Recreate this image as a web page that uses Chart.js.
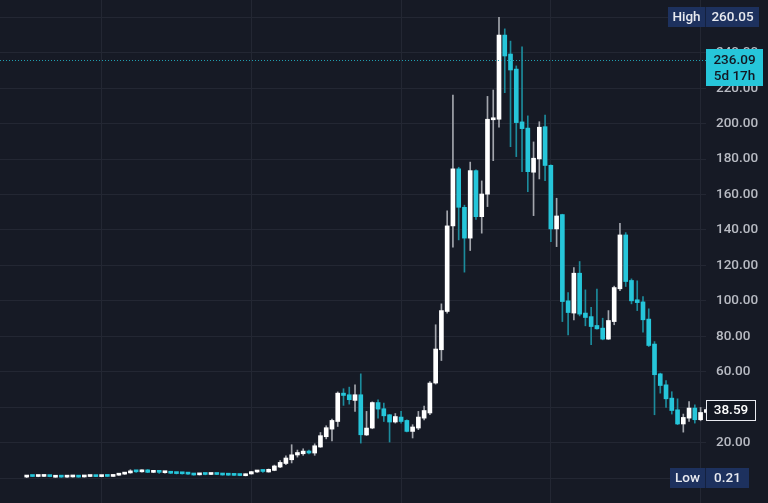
<!DOCTYPE html>
<html>
<head>
<meta charset="utf-8">
<script src="https://cdn.jsdelivr.net/npm/chart.js@4.4.0/dist/chart.umd.min.js"></script>
<style>
  html, body { margin: 0; padding: 0; background: #161a25; }
  #wrap { width: 768px; height: 503px; position: relative; }
</style>
</head>
<body>
<div id="wrap"><canvas id="chart"></canvas></div>
<script>
// Weekly candles, oldest first
const opens = [
  0.55, 0.95, 0.85, 0.9, 0.95, 0.45, 0.7, 0.5, 0.6, 0.75,
  0.6, 0.85, 1.0, 0.8, 1.05, 0.9, 1.6, 2.2, 2.9, 3.8,
  3.5, 4.6, 3.2, 3.5, 3.0, 3.1, 2.7, 2.6, 2.4, 2.2,
  1.8, 2.3, 2.0, 2.4, 2.0, 1.8, 1.7, 1.6, 1.3, 2.3,
  3.4, 4.0, 3.4, 4.3, 6.2, 8.2, 10.3, 13.0, 13.7, 15.2,
  14.1, 17.5, 23.3, 27.6, 31.9, 47.9, 47.0, 43.8, 47.0, 24.3,
  28.2, 42.6, 39.1, 35.7, 31.6, 34.4, 32.5, 26.3, 28.2, 33.8,
  36.7, 53.6, 72.4, 94.0, 142.3, 174.5, 152.8, 135.4, 173.5, 147.5,
  160.2, 202.2, 202.5, 250.0, 239.3, 230.8, 201.0, 197.5, 172.6, 180.1,
  198.3, 176.5, 140.6, 148.7, 100.0, 93.1, 115.6, 93.1, 91.1, 86.1,
  84.6, 78.4, 88.3, 106.8, 137.2, 111.5, 100.6, 99.4, 89.7, 75.6,
  58.8, 52.6, 45.1, 38.5, 30.5, 33.8, 39.5, 32.9, 37.0
];
const highs = [
  1.1, 1.1, 1.0, 1.1, 1.05, 0.85, 0.8, 0.8, 0.9, 0.85,
  1.1, 1.2, 1.1, 1.2, 1.2, 1.8, 2.4, 3.1, 4.7, 4.2,
  4.6, 4.8, 4.2, 4.0, 3.6, 3.3, 2.9, 2.8, 2.6, 2.4,
  2.5, 2.5, 2.6, 2.6, 2.2, 1.9, 1.9, 1.7, 2.4, 3.8,
  4.3, 4.5, 5.1, 7.3, 9.8, 12.5, 18.8, 15.8, 16.5, 15.8,
  19.3, 25.7, 29.5, 33.3, 48.6, 50.4, 51.3, 52.6, 58.8, 37.6,
  43.0, 44.2, 42.3, 35.9, 36.4, 37.6, 32.8, 30.1, 37.6, 40.6,
  54.5, 86.5, 98.3, 150.8, 216.2, 175.4, 154.0, 178.3, 174.0, 167.7,
  215.4, 219.0, 260.05, 253.5, 246.6, 232.6, 243.4, 204.4, 189.7, 201.1,
  204.8, 176.8, 157.9, 148.9, 104.7, 118.8, 122.2, 106.2, 96.4, 106.6,
  90.2, 94.5, 108.3, 143.8, 138.5, 112.4, 111.3, 102.4, 95.5, 77.0,
  59.2, 55.0, 48.7, 44.7, 36.1, 43.2, 41.3, 39.8, 38.9
];
const lows = [
  0.21, 0.75, 0.7, 0.75, 0.7, 0.4, 0.4, 0.4, 0.5, 0.45,
  0.5, 0.75, 0.7, 0.7, 0.8, 0.85, 1.5, 2.0, 2.7, 3.2,
  3.3, 3.0, 3.0, 2.6, 2.8, 2.5, 2.3, 2.2, 2.0, 1.6,
  1.7, 1.8, 1.9, 1.9, 1.6, 1.5, 1.4, 1.3, 1.2, 2.2,
  3.1, 3.2, 3.3, 4.1, 5.8, 7.6, 8.5, 11.8, 12.8, 13.6,
  12.8, 17.3, 22.1, 21.0, 29.1, 41.0, 41.7, 37.6, 19.7, 24.0,
  27.8, 33.8, 31.9, 20.3, 31.0, 31.0, 26.0, 22.6, 27.3, 32.8,
  35.8, 53.0, 66.3, 93.0, 130.3, 134.4, 116.2, 128.4, 146.0, 138.2,
  153.2, 179.1, 198.0, 217.5, 187.0, 181.4, 172.9, 161.6, 148.1, 168.8,
  167.8, 133.4, 130.6, 88.3, 80.8, 89.3, 91.5, 85.9, 75.2, 84.0,
  78.0, 78.2, 86.5, 105.8, 108.1, 98.3, 94.5, 82.3, 74.2, 35.7,
  47.9, 39.8, 36.1, 30.1, 25.9, 31.9, 31.0, 32.3, 36.8
];
const closes = [
  0.95, 0.85, 0.9, 0.95, 0.8, 0.7, 0.5, 0.65, 0.75, 0.5,
  0.9, 1.0, 0.8, 1.05, 0.9, 1.6, 2.2, 2.9, 3.8, 3.5,
  4.3, 3.2, 3.8, 3.2, 3.3, 2.7, 2.5, 2.4, 2.2, 1.7,
  2.3, 2.0, 2.4, 2.0, 1.7, 1.6, 1.5, 1.4, 2.3, 3.6,
  3.7, 3.7, 4.9, 6.8, 8.8, 11.3, 13.1, 14.4, 15.2, 14.1,
  18.2, 23.9, 28.4, 32.5, 47.9, 46.6, 44.2, 47.0, 24.4, 28.2,
  42.6, 38.9, 35.1, 31.6, 34.7, 31.9, 26.3, 28.8, 34.4, 38.1,
  53.6, 72.8, 94.5, 142.3, 174.5, 152.8, 135.4, 173.5, 147.5, 160.3,
  202.5, 203.0, 250.0, 238.2, 230.3, 200.6, 197.2, 172.9, 180.5, 198.0,
  176.4, 140.6, 147.9, 99.6, 93.4, 115.6, 92.5, 90.6, 85.5, 84.2,
  78.4, 88.9, 107.5, 137.2, 110.9, 100.0, 99.0, 89.3, 74.8, 58.3,
  52.2, 44.7, 38.1, 30.5, 34.2, 39.5, 32.9, 37.0, 38.59
];

// axis ticks
const priceTicks = [0, 20, 40, 60, 80, 100, 120, 140, 160, 180, 200, 220, 240, 260];
const timeGridTicks = [13, 39, 65, 91, 117];

// price labels on the right
const highLabel = { text: 'High', value: 260.05 };
const lowLabel = { text: 'Low', value: 0.21 };
const markLabel = { value: 236.09, countdown: '5d 17h' };
const lastLabel = { value: 38.59 };

const UP = '#ffffff';
const DOWN = '#26c6da';
const UP_WICK = '#a3a6ad';
const DOWN_WICK = '#1c8b9c';
const FONT = '500 13.5px Roboto';

const isUp = closes.map((c, i) => c >= opens[i]);

const overlay = {
    id: 'overlay',
    afterDatasetsDraw(chart) {
        const { ctx, chartArea } = chart;
        const y = chart.scales.y.getPixelForValue(markLabel.value);
        ctx.save();
        ctx.strokeStyle = '#1f9fb0';
        ctx.lineWidth = 1;
        ctx.setLineDash([1, 2]);
        ctx.beginPath();
        ctx.moveTo(chartArea.left, Math.round(y) + 0.5);
        ctx.lineTo(chartArea.right, Math.round(y) + 0.5);
        ctx.stroke();
        ctx.restore();
    },
    afterDraw(chart) {
        const { ctx } = chart;
        const yScale = chart.scales.y;
        const ax = chart.chartArea.right;
        ctx.save();
        ctx.font = FONT;
        ctx.textAlign = 'center';
        ctx.textBaseline = 'middle';

        // High / Low boxes
        [[highLabel, ax - 38, ax + 53], [lowLabel, ax - 36, ax + 43]].forEach(([lab, x0, x1]) => {
            const y = Math.round(yScale.getPixelForValue(lab.value));
            ctx.fillStyle = '#1d315e';
            ctx.fillRect(x0, y - 10, x1 - x0, 20);
            ctx.fillStyle = '#14213f';
            ctx.fillRect(ax - 1, y - 10, 1, 20);
            ctx.fillStyle = '#e8eaf0';
            ctx.fillText(lab.text, (x0 + ax - 1) / 2, y + 1);
            ctx.fillText(lab.value.toFixed(2), (ax + x1) / 2, y + 1);
        });

        // current price + countdown
        let y = Math.round(yScale.getPixelForValue(markLabel.value));
        ctx.fillStyle = DOWN;
        ctx.fillRect(ax, y - 11, 57, 37);
        ctx.fillStyle = '#131722';
        ctx.fillText(markLabel.value.toFixed(2), ax + 28.5, y + 0.5);
        ctx.fillText(markLabel.countdown, ax + 28.5, y + 16.5);

        // last close
        y = Math.round(yScale.getPixelForValue(lastLabel.value));
        ctx.fillStyle = '#131722';
        ctx.fillRect(ax + 0.5, y - 9.5, 49, 20);
        ctx.strokeStyle = '#e8eaf0';
        ctx.lineWidth = 1;
        ctx.strokeRect(ax + 0.5, y - 9.5, 49, 20);
        ctx.fillStyle = '#ffffff';
        ctx.fillText(lastLabel.value.toFixed(2), ax + 25, y + 1);
        ctx.restore();
    }
};

const ctx = document.getElementById('chart').getContext('2d');
new Chart(ctx, {
    type: 'bar',
    data: {
        datasets: [{
            label: 'Body',
            order: 0,
            data: opens.map((o, i) => ({ x: i, y: [o, closes[i]] })),
            backgroundColor: isUp.map(u => u ? UP : DOWN),
            barThickness: 4,
            minBarLength: 2,
            grouped: false,
            borderWidth: 0
        }, {
            label: 'Wick',
            order: 1,
            data: lows.map((l, i) => ({ x: i, y: [l, highs[i]] })),
            backgroundColor: isUp.map(u => u ? UP_WICK : DOWN_WICK),
            barThickness: 1,
            grouped: false,
            borderWidth: 0
        }]
    },
    options: {
        responsive: true,
        maintainAspectRatio: false,
        animation: false,
        devicePixelRatio: 1,
        layout: { padding: 0 },
        plugins: {
            legend: { display: false },
            tooltip: { enabled: false }
        },
        scales: {
            x: {
                type: 'linear',
                min: -4.64,
                max: 117.94,
                offset: false,
                ticks: { display: false },
                grid: { color: '#232733', drawTicks: false, offset: false },
                border: { display: false },
                afterBuildTicks: s => { s.ticks = timeGridTicks.map(v => ({ value: v })); },
                afterFit: s => { s.height = 0; s.paddingLeft = 0; s.paddingRight = 0; }
            },
            y: {
                type: 'linear',
                position: 'right',
                min: -14.1,
                max: 269.8,
                ticks: {
                    color: '#b8bbc3',
                    font: { family: 'Roboto', size: 13.5, weight: '500' },
                    padding: 10,
                    callback: v => v.toFixed(2)
                },
                grid: { color: '#232733', drawTicks: false },
                border: { display: false },
                afterBuildTicks: s => { s.ticks = priceTicks.map(v => ({ value: v })); },
                afterFit: s => { s.width = 62; s.paddingTop = 0; s.paddingBottom = 0; }
            }
        }
    },
    plugins: [overlay]
});
</script>
</body>
</html>
